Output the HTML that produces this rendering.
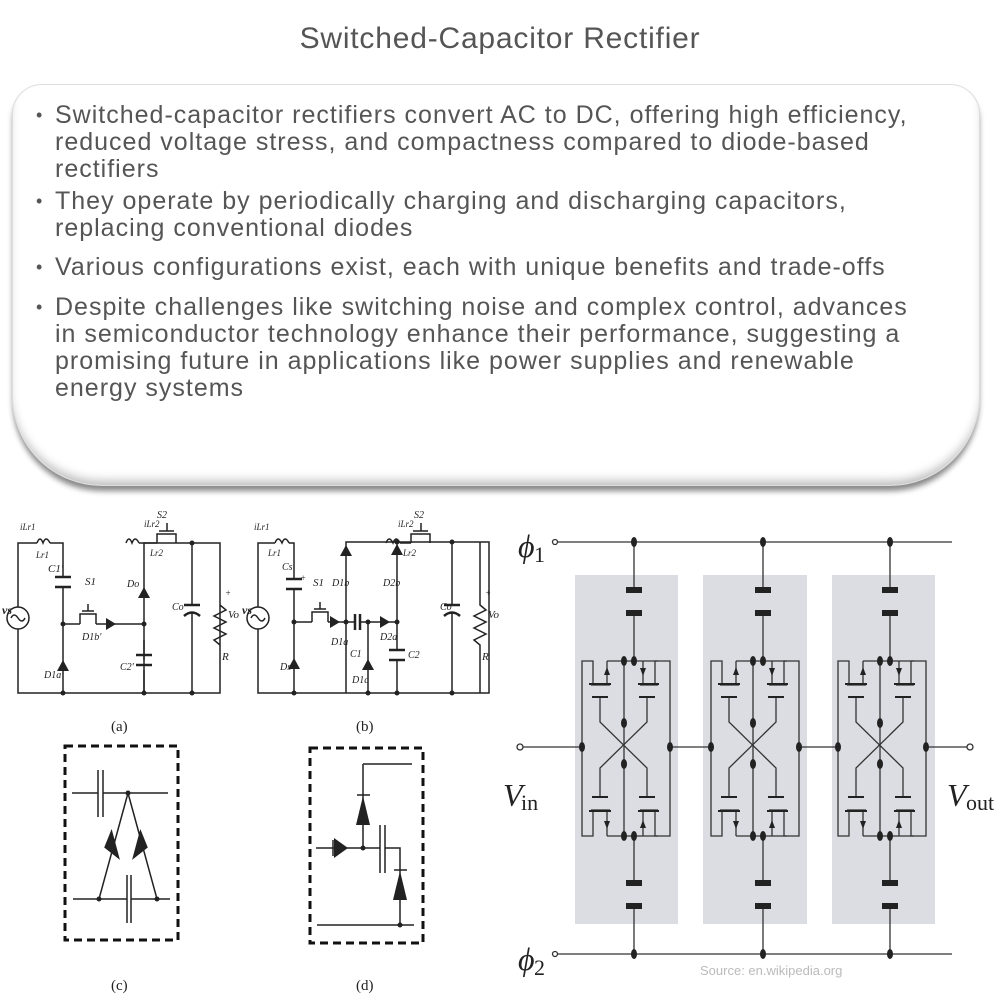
<!DOCTYPE html>
<html><head><meta charset="utf-8"><style>
html,body{margin:0;padding:0;background:#fff;}
body{width:1000px;height:1000px;position:relative;overflow:hidden;font-family:"Liberation Sans",sans-serif;}
h1{position:absolute;top:22px;left:0;width:1000px;text-align:center;margin:0;font-weight:normal;font-size:30px;color:#555;letter-spacing:0.8px;}
.card{position:absolute;left:12px;top:84px;width:966px;height:400px;border-radius:30px 30px 90px 90px;background:#fff;box-shadow:0 6px 6px -1px #888, inset 0 -8px 10px -4px #bbb;border:1px solid #ddd;}
ul{position:absolute;left:36px;top:102px;margin:0;padding:0;list-style:none;color:#555;font-size:25px;line-height:27px;letter-spacing:1px;white-space:nowrap;}
li{position:relative;padding-left:19px;}
li:before{content:"•";position:absolute;left:0;top:0;font-size:18px;}
svg{position:absolute;left:0;top:0;}
</style></head><body>
<h1>Switched-Capacitor Rectifier</h1>
<div class="card"></div>
<ul>
<li style="margin-bottom:5px">Switched-capacitor rectifiers convert AC to DC, offering high efficiency,<br>reduced voltage stress, and compactness compared to diode-based<br>rectifiers</li>
<li style="margin-bottom:12px">They operate by periodically charging and discharging capacitors,<br>replacing conventional diodes</li>
<li style="margin-bottom:13px">Various configurations exist, each with unique benefits and trade-offs</li>
<li>Despite challenges like switching noise and complex control, advances<br>in semiconductor technology enhance their performance, suggesting a<br>promising future in applications like power supplies and renewable<br>energy systems</li>
</ul>
<svg width="1000" height="1000" viewBox="0 0 1000 1000" font-family="Liberation Serif, serif">
<g stroke="#222" stroke-width="1.5" fill="none">
<path d="M18 607V543H37M50 543H63V577M63 587V693M18 629V693H220V543H144V693M63 624H80M96 624H144M192 543V605M192 613V693M220 543V605L226 610 214 616 226 622 214 628 226 634 214 640 220 645V693"/>
<path d="M37 543q3-8 6 0q3-8 7 0"/>
<circle cx="18" cy="618" r="11"/><path d="M11 618q3-6 7 0t7 0"/>
<path d="M55 577H71M55 587H71M136 655H152M136 665H152M184 605H200M184 616q8-7 16 0" stroke-width="2.5"/>
<path d="M80 624V614H96V624M82 611H94M88 611V604" />
<path d="M144 640V660M144 670V693"/>
<path d="M258 607V543H275M289 543H294V579M294 589V693M258 629V693H489V542H346V693M294 622H312M328 622H355M360 622H397M397 542V650M397 660V693M368 622V693M452 542V605M452 613V693M480 542V605L486 610 474 616 486 622 474 628 486 634 474 640 480 645V693"/>
<path d="M275 543q3-8 7 0q3-8 7 0"/>
<circle cx="258" cy="618" r="11"/><path d="M251 618q3-6 7 0t7 0"/>
<path d="M286 579H302M286 589H302M355 614V630M360 614V630M389 650H405M389 660H405M444 605H460M444 616q8-7 16 0" stroke-width="2.5"/>
<path d="M312 622V612H328V622M314 609H326M320 609V602"/>
<path d="M157 543V534H176V543M159 531H174M167 531V523"/>
<path d="M411 543V534H430V543M413 531H428M421 531V523"/>
<path d="M126 543q3-8 6 0q3-8 7 0M139 543H157"/>
<path d="M386 543q3-8 7 0q3-8 7 0M400 543H411"/>
</g>
<g fill="#222">
<path d="M57 671H69L63 660Z"/><path d="M138 598H150L144 587Z"/><path d="M106 618V630L116 624Z"/>
<path d="M288 669H300L294 658Z"/><path d="M340 556H352L346 545Z"/><path d="M391 555H403L397 544Z"/>
<path d="M330 616V628L340 622Z"/><path d="M380 616V628L390 622Z"/><path d="M362 670H374L368 659Z"/>
<circle cx="63" cy="624" r="2.5"/><circle cx="144" cy="624" r="2.5"/><circle cx="63" cy="693" r="2.5"/><circle cx="144" cy="693" r="2.5"/><circle cx="192" cy="693" r="2.5"/><circle cx="192" cy="543" r="2.5"/>
<circle cx="294" cy="622" r="2.5"/><circle cx="294" cy="693" r="2.5"/><circle cx="346" cy="622" r="2.5"/><circle cx="368" cy="622" r="2.5"/><circle cx="397" cy="622" r="2.5"/><circle cx="368" cy="693" r="2.5"/><circle cx="397" cy="693" r="2.5"/><circle cx="452" cy="693" r="2.5"/><circle cx="397" cy="542" r="2.5"/><circle cx="452" cy="542" r="2.5"/>
</g>
<g font-style="italic" font-size="9" fill="#222">
<text x="20" y="530">iLr1</text><text x="36" y="558">Lr1</text><text x="48" y="572" font-size="11">C1'</text><text x="85" y="585" font-size="11">S1</text><text x="82" y="640" font-size="10">D1b'</text><text x="127" y="587" font-size="10">Do</text><text x="44" y="678" font-size="10">D1a'</text><text x="120" y="670" font-size="10">C2'</text><text x="172" y="610" font-size="10">Co</text><text x="228" y="618" font-size="11">Vo</text><text x="222" y="660" font-size="11">R</text><text x="225" y="596">+</text><text x="2" y="614" font-size="12" font-weight="bold">vs</text><text x="144" y="527">iLr2</text><text x="150" y="556">Lr2</text><text x="157" y="518" font-size="10">S2</text>
<text x="254" y="530">iLr1</text><text x="268" y="556">Lr1</text><text x="282" y="570" font-size="10">Cs</text><text x="300" y="581">+</text><text x="313" y="586" font-size="11">S1</text><text x="332" y="586" font-size="10">D1b</text><text x="383" y="586" font-size="10">D2b</text><text x="331" y="645" font-size="10">D1a</text><text x="350" y="657" font-size="10">C1</text><text x="352" y="683" font-size="10">D1c</text><text x="380" y="640" font-size="10">D2a</text><text x="408" y="658" font-size="10">C2</text><text x="280" y="670" font-size="10">Ds</text><text x="440" y="610" font-size="10">Co</text><text x="488" y="618" font-size="11">Vo</text><text x="482" y="660" font-size="11">R</text><text x="485" y="596">+</text><text x="242" y="614" font-size="12" font-weight="bold">vs</text><text x="398" y="527">iLr2</text><text x="403" y="556">Lr2</text><text x="414" y="518" font-size="10">S2</text>
</g>
<g font-size="15" fill="#222"><text x="111" y="731">(a)</text><text x="356" y="731">(b)</text><text x="111" y="990">(c)</text><text x="356" y="990">(d)</text></g>
<g fill="none" stroke="#111" stroke-width="3" stroke-dasharray="8,5"><rect x="65" y="746" width="113" height="194"/><rect x="310" y="748" width="113" height="195"/></g>
<g stroke="#222" stroke-width="1.5" fill="none">
<path d="M72 793H98M103 793H168M98 770V817M103 770V817M128 793L99 899M128 793L157 899M73 899H127M131 899H170M127 875V923M131 875V923"/>
<path d="M363 764H412M363 764V848M316 848H380M385 848H400V926M380 825V873M385 825V873M317 925H414M357 795H370M333 840V856M394 870H407"/>
</g>
<g fill="#222"><path d="M104 846L116 830L116 862Z" transform="rotate(-15 110 846)"/><path d="M148 846L136 830L136 862Z" transform="rotate(15 142 846)"/>
<path d="M356 825H370L363 796Z"/><path d="M334 838V858L348 848Z"/><path d="M393 900H407L400 871Z"/>
<circle cx="128" cy="793" r="2.5"/><circle cx="99" cy="899" r="2.5"/><circle cx="157" cy="899" r="2.5"/><circle cx="363" cy="848" r="2.5"/><circle cx="400" cy="925" r="2.5"/></g>
<g fill="#dcdce3"><rect x="575" y="575" width="103" height="349"/><rect x="703" y="575" width="104" height="349"/><rect x="832" y="575" width="103" height="349"/></g>
<g stroke="#333" stroke-width="1.3" fill="none">
<path d="M557 542H952M557 954H952M523 747H582M670 747H711M799 747H838M926 747H967"/>
<circle cx="555" cy="542" r="2.5" fill="#fff"/><circle cx="555" cy="954" r="2.5" fill="#fff"/><circle cx="520" cy="747" r="3" fill="#fff"/><circle cx="970" cy="747" r="3" fill="#fff"/>
</g>
<g id="col">
<g stroke="#333" stroke-width="1.3" fill="none">
<path d="M634 542V590M634 613V661M634 836V883M634 906V954M624 661V836M607 661H658M607 836H658"/>
<path d="M593 685V661H582V836H593V810M655 685V661H670V836H655V810"/>
<path d="M591 685H610M607 685V661M640 685H658M643 685V661"/>
<path d="M591 810H610M607 810V836M640 810H658M643 810V836"/>
<path d="M600 697V722L647 768V797M647 697V722L600 768V797"/>
</g>
<g stroke="#222" stroke-width="2" fill="none"><path d="M592 697H608M639 697H655M592 797H608M639 797H655M589 684H611M638 684H659M589 811H611M638 811H659"/></g>
<g fill="#222">
<rect x="626" y="587" width="16" height="6"/><rect x="626" y="610" width="16" height="6"/><rect x="626" y="880" width="16" height="6"/><rect x="626" y="903" width="16" height="6"/>
<ellipse cx="634" cy="542" rx="3" ry="5"/><ellipse cx="634" cy="954" rx="3" ry="5"/><ellipse cx="624" cy="661" rx="3" ry="5"/><ellipse cx="634" cy="661" rx="3" ry="5"/><ellipse cx="624" cy="836" rx="3" ry="5"/><ellipse cx="634" cy="836" rx="3" ry="5"/><ellipse cx="624" cy="723" rx="3" ry="5"/><ellipse cx="624" cy="764" rx="3" ry="5"/><ellipse cx="582" cy="747" rx="3" ry="5"/><ellipse cx="670" cy="747" rx="3" ry="5"/>
<path d="M604 675H610L607 667Z"/><path d="M640 668H646L643 676Z"/><path d="M604 821H610L607 829Z"/><path d="M640 828H646L643 820Z"/>
</g>
</g>
<use href="#col" x="129"/><use href="#col" x="256"/>
<g font-style="italic" fill="#222" font-size="32"><text x="518" y="557">ϕ</text><text x="518" y="970">ϕ</text><text x="503" y="806">V</text><text x="947" y="806">V</text></g>
<g fill="#222" font-size="22"><text x="534" y="562">1</text><text x="534" y="975">2</text><text x="521" y="810">in</text><text x="966" y="810">out</text></g>
<text x="700" y="975" font-size="13" fill="#bbb" font-family="Liberation Sans, sans-serif">Source: en.wikipedia.org</text>
</svg>
</body></html>
